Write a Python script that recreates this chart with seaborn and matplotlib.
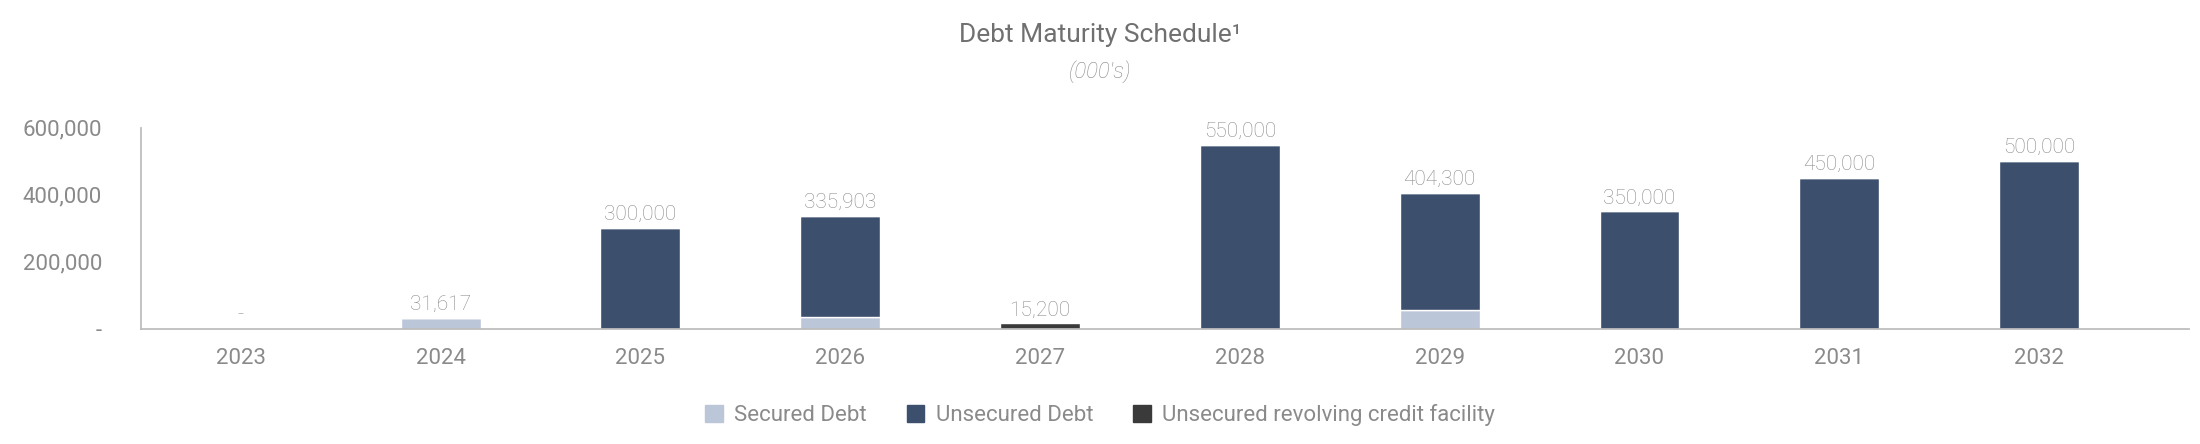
import matplotlib
matplotlib.use("Agg")
import matplotlib.pyplot as plt
import seaborn as sns
import numpy as np
import pandas as pd
from matplotlib.patches import Patch

years = ["2023","2024","2025","2026","2027","2028","2029","2030","2031","2032"]
secured = [0, 31617, 0, 35903, 0, 0, 54300, 0, 0, 0]
unsecured = [0, 0, 300000, 300000, 0, 550000, 350000, 350000, 450000, 500000]
revolver = [0, 0, 0, 0, 15200, 0, 0, 0, 0, 0]
yticks = [0, 200000, 400000, 600000]
ytick_labels = ["-", "200,000", "400,000", "600,000"]

sns.set_theme(style="white")
plt.rcParams['font.family'] = ['Roboto', 'DejaVu Sans']
grey = "#8a8a8a"
c_sec, c_uns, c_rev = "#bcc6d9", "#3c4f6d", "#3a3a3a"

fig = plt.figure(figsize=(22, 4.44), dpi=100)
ax = fig.add_axes([0.064, 0.26, 0.931, 0.452])
df = pd.DataFrame({"year": years, "sec": secured, "uns": unsecured, "rev": revolver})
w = 0.4
sns.barplot(data=df, x="year", y="sec", color=c_sec, width=w, saturation=1, ax=ax)
sns.barplot(data=df, x="year", y="uns", color=c_uns, width=w, saturation=1, ax=ax, bottom=df["sec"])
sns.barplot(data=df, x="year", y="rev", color=c_rev, width=w, saturation=1, ax=ax, bottom=df["sec"] + df["uns"])
totals = df["sec"] + df["uns"] + df["rev"]
for i, t in enumerate(totals):
    ax.text(i, t + 12000, f"{t:,.0f}" if t else "-", ha="center", va="bottom",
            fontsize=15, color=grey, fontweight="light")
ax.set_ylim(0, 600000)
ax.set_xlim(-0.5, 9.75)
ax.set_yticks(yticks)
ax.set_yticklabels(ytick_labels)
ax.set_xlabel(""); ax.set_ylabel("")
for s in ["top", "right"]:
    ax.spines[s].set_visible(False)
for s in ["left", "bottom"]:
    ax.spines[s].set_color("#bbbbbb")
ax.tick_params(axis="both", colors=grey, labelsize=16, length=0, pad=14)
ax.tick_params(axis="y", pad=28)
fig.text(0.5, 0.905, "Debt Maturity Schedule¹", ha="center", fontsize=19, color="#707070")
fig.text(0.5, 0.825, "(000's)", ha="center", fontsize=16, color=grey, style="italic", fontweight="light")
handles = [Patch(color=c_sec, label="Secured Debt"), Patch(color=c_uns, label="Unsecured Debt"),
           Patch(color=c_rev, label="Unsecured revolving credit facility")]
leg = fig.legend(handles=handles, loc="center", bbox_to_anchor=(0.5, 0.065), ncol=3, frameon=False,
                 fontsize=16, handlelength=0.8, handleheight=0.8, columnspacing=1.8, handletextpad=0.5)
for t in leg.get_texts():
    t.set_color(grey)
fig.savefig("out.png", dpi=100)
